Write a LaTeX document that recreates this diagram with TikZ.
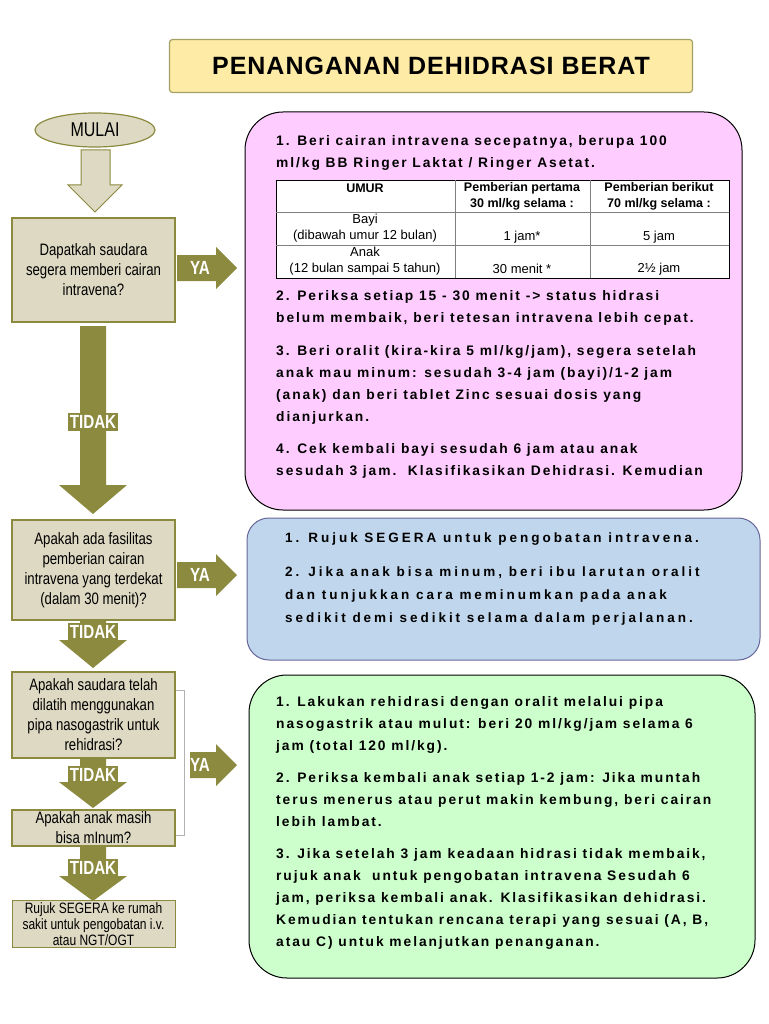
\documentclass[tikz,border=0pt]{standalone}
\usepackage{fontspec}
\setmainfont{Liberation Sans}
\newfontfamily\narrow[FakeStretch=0.8]{Liberation Sans}
\newfontfamily\spaced[LetterSpace=14]{Liberation Sans}
\newfontfamily\spacedb[LetterSpace=22]{Liberation Sans}
\usetikzlibrary{shapes.geometric}
\definecolor{olive}{HTML}{8C8A3E}
\definecolor{tan}{HTML}{DDD9C3}
\definecolor{pinkf}{HTML}{FFCCFF}
\definecolor{bluef}{HTML}{BFD6EC}
\definecolor{greenf}{HTML}{CCFFCC}
\definecolor{titlef}{HTML}{FDEBA6}
\tikzset{
 qbox/.style={draw=olive,line width=1.5pt,fill=tan,minimum width=163pt,align=center,font=\narrow\fontsize{16.5}{20}\selectfont,inner sep=2pt},
 lab/.style={fill=olive,text=white,font=\narrow\bfseries\fontsize{19}{19}\selectfont,inner sep=2pt},
 arr/.style={fill=olive,draw=none},
 para/.style={anchor=north west,align=left,inner sep=0pt,font=\spaced\bfseries\fontsize{13.8}{22}\selectfont},
 cell/.style={font=\fontsize{13}{16}\selectfont,align=center,inner sep=0pt}
}
\begin{document}
\begin{tikzpicture}[x=1pt,y=-1pt]
\useasboundingbox (0,0) rectangle (768,1024);
\fill[white] (0,0) rectangle (768,1024);
% title
\node[draw=olive!80,line width=1.2pt,fill=titlef,rounded corners=3pt,minimum width=523pt,minimum height=53pt,font=\bfseries\addfontfeature{LetterSpace=4}\fontsize{25}{25}\selectfont] (title) at (431,66) {PENANGANAN DEHIDRASI BERAT};
% left column
\node[ellipse,draw=olive,line width=1.2pt,fill=tan,minimum width=120pt,minimum height=34pt,font=\narrow\fontsize{20}{20}\selectfont] (mulai) at (95,130) {MULAI};
\draw[olive,line width=1pt,fill=tan] (81,150)--(110,150)--(110,185)--(122,185)--(95,212)--(68,185)--(81,185)--cycle;
\node[qbox,minimum height=104pt] (q1) at (93.5,270) {Dapatkah saudara\\segera memberi cairan\\intravena?};
\node[qbox,minimum height=100pt] (q2) at (93.5,570) {Apakah ada fasilitas\\pemberian cairan\\intravena yang terdekat\\(dalam 30 menit)?};
\node[qbox,minimum height=86pt] (q3) at (93.5,715) {Apakah saudara telah\\dilatih menggunakan\\pipa nasogastrik untuk\\rehidrasi?};
\node[qbox,minimum height=36pt] (q4) at (93.5,828) {Apakah anak masih\\bisa mInum?};
\node[qbox,minimum height=42pt,line width=1pt,font=\narrow\fontsize{15}{16}\selectfont] (q5) at (93.5,924) {Rujuk SEGERA ke rumah\\sakit untuk pengobatan i.v.\\atau NGT/OGT};
% down arrows
\fill[arr] (80,326)--(106,326)--(106,485)--(127,485)--(93,514)--(59,485)--(80,485)--cycle;
\node[lab] (t1) at (93,422) {TIDAK};
\fill[arr] (80,621)--(106,621)--(106,640)--(127,640)--(93,668)--(59,640)--(80,640)--cycle;
\node[lab] (t2) at (93,632) {TIDAK};
\fill[arr] (80,759)--(106,759)--(106,782)--(127,782)--(93,808)--(59,782)--(80,782)--cycle;
\node[lab] (t3) at (93,775) {TIDAK};
\fill[arr] (80,847)--(106,847)--(106,876)--(127,876)--(93,901)--(59,876)--(80,876)--cycle;
\node[lab] (t4) at (93,868) {TIDAK};
% YA arrows
\foreach \yy/\xs/\nm in {268/177/y1,575/177/y2,765/190/y3}{
 \fill[arr] (\xs,\yy-13)--(216,\yy-13)--(216,\yy-21)--(237,\yy)--(216,\yy+21)--(216,\yy+13)--(\xs,\yy+13)--cycle;
 \node[text=white,font=\narrow\bfseries\fontsize{19}{19}\selectfont] (\nm) at (200,\yy) {YA};
}
\draw[gray!60,line width=0.8pt] (q3.east|-0,690)--(184,690)--(184,835)--(q4.east|-0,835);
% pink box
\draw[fill=pinkf,line width=1pt,rounded corners=38pt] (245,112) rectangle (742,510);
\node[para] (p1) at (276,135) {1. Beri cairan intravena secepatnya, berupa 100\\ml/kg BB Ringer Laktat / Ringer Asetat.};
\fill[white] (276,180) rectangle (729,278);
\draw[black,line width=0.5pt] (276,180) rectangle (729,278);
\draw[gray,line width=0.6pt] (455,180)--(455,278) (590,180)--(590,278) (276,212)--(729,212) (276,245)--(729,245);
\node[cell,font=\bfseries\fontsize{12.5}{16}\selectfont] (h1) at (365,188) {UMUR};
\node[cell,font=\bfseries\fontsize{12.5}{16}\selectfont] (h2) at (522,196) {Pemberian pertama\\30 ml/kg selama :};
\node[cell,font=\bfseries\fontsize{12.5}{16}\selectfont] (h3) at (659,196) {Pemberian berikut\\70 ml/kg selama :};
\node[cell] (r1) at (365,228) {Bayi\\(dibawah umur 12 bulan)};
\node[cell] (r1b) at (522,237) {1 jam*};
\node[cell] (r1c) at (659,237) {5 jam};
\node[cell] (r2) at (365,261) {Anak\\(12 bulan sampai 5 tahun)};
\node[cell] (r2b) at (522,269) {30 menit *};
\node[cell] (r2c) at (659,269) {2½ jam};
\node[para] (p2) at (276,290) {2. Periksa setiap 15 - 30 menit -> status hidrasi\\belum membaik, beri tetesan intravena lebih cepat.};
\node[para] (p3) at (276,345) {3. Beri oralit (kira-kira 5 ml/kg/jam), segera setelah\\anak mau minum: sesudah 3-4 jam (bayi)/1-2 jam\\(anak) dan beri tablet Zinc sesuai dosis yang\\dianjurkan.};
\node[para] (p4) at (276,443) {4. Cek kembali bayi sesudah 6 jam atau anak\\sesudah 3 jam.\ \ Klasifikasikan Dehidrasi. Kemudian};
% blue box
\draw[draw=gray!80!blue,fill=bluef,line width=1pt,rounded corners=22pt] (247,518) rectangle (760,660);
\node[para,font=\spacedb\bfseries\fontsize{13.5}{23}\selectfont] (b1) at (285,533) {1. Rujuk SEGERA untuk pengobatan intravena.};
\node[para,font=\spacedb\bfseries\fontsize{13.5}{23}\selectfont] (b2) at (285,567) {2. Jika anak bisa minum, beri ibu larutan oralit\\dan tunjukkan cara meminumkan pada anak\\sedikit demi sedikit selama dalam perjalanan.};
% green box
\draw[fill=greenf,line width=1pt,rounded corners=38pt] (249,675) rectangle (755,978);
\node[para] (g1) at (276,696) {1. Lakukan rehidrasi dengan oralit melalui pipa\\nasogastrik atau mulut: beri 20 ml/kg/jam selama 6\\jam (total 120 ml/kg).};
\node[para] (g2) at (276,772) {2. Periksa kembali anak setiap 1-2 jam: Jika muntah\\terus menerus atau perut makin kembung, beri cairan\\lebih lambat.};
\node[para] (g3) at (276,848) {3. Jika setelah 3 jam keadaan hidrasi tidak membaik,\\rujuk anak\ \ untuk pengobatan intravena Sesudah 6\\jam, periksa kembali anak. Klasifikasikan dehidrasi.\\Kemudian tentukan rencana terapi yang sesuai (A, B,\\atau C) untuk melanjutkan penanganan.};
\end{tikzpicture}
\end{document}
